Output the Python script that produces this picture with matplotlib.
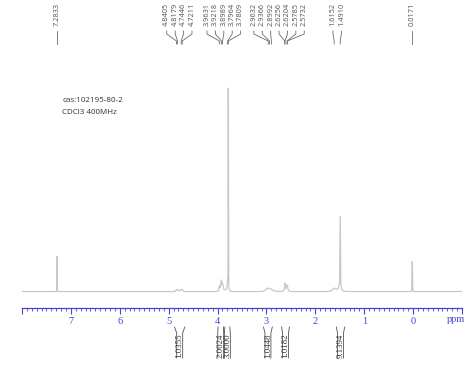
import matplotlib
matplotlib.use("Agg")
import matplotlib.pyplot as plt
import matplotlib.transforms as mtransforms
from matplotlib.ticker import MultipleLocator, FixedLocator, FuncFormatter

# ---------------- data ----------------
spec_ppm = [8.0, 7.30, 7.29, 7.2833, 7.277, 7.265,
            4.87, 4.84, 4.83, 4.818, 4.78, 4.745, 4.733, 4.721, 4.69,
            4.00, 3.975, 3.963, 3.945, 3.922, 3.91, 3.899, 3.87, 3.84, 3.81,
            3.7964, 3.788, 3.7809, 3.77, 3.75, 3.70,
            3.10, 3.03, 2.98, 2.95, 2.91, 2.86, 2.80, 2.70,
            2.66, 2.635, 2.6256, 2.6204, 2.605, 2.5785, 2.5732, 2.555, 2.52, 2.45,
            1.75, 1.67, 1.6152, 1.57, 1.53, 1.505, 1.491, 1.478, 1.46, 1.42, 1.35,
            0.05, 0.03, 0.0171, 0.005, -0.02, -1.0]
spec_int = [0.0, 0.0, 0.5, 17.2, 0.5, 0.0,
            0.0, 1.0, 0.7, 1.0, 0.3, 1.0, 0.7, 1.0, 0.0,
            0.0, 0.8, 3.0, 2.0, 5.7, 3.5, 4.2, 1.0, 0.8, 1.5,
            5.0, 8.0, 100.0, 2.0, 0.3, 0.0,
            0.0, 0.6, 1.5, 1.7, 1.3, 0.5, 0.1, 0.0,
            0.2, 1.0, 4.0, 4.2, 1.5, 3.0, 3.2, 0.8, 0.1, 0.0,
            0.0, 0.5, 1.7, 1.0, 1.5, 4.0, 36.9, 4.0, 1.0, 0.2, 0.0,
            0.0, 0.3, 14.7, 0.3, 0.0, 0.0]

peak_groups = [[7.2833],
               [4.8405, 4.8179, 4.7446, 4.7211],
               [3.9631, 3.9218, 3.8989, 3.7964, 3.7809],
               [2.9632, 2.9366, 2.8992, 2.6256, 2.6204, 2.5785, 2.5732],
               [1.6152, 1.4910],
               [0.0171]]

integral_ranges = [(4.88, 4.67), (3.99, 3.88), (3.85, 3.75),
                   (3.06, 2.88), (2.69, 2.53), (1.57, 1.40)]
integral_values = ['1.0355', '2.0024', '3.0000', '1.0448', '1.0182', '9.1394']

tick_labels = [7, 6, 5, 4, 3, 2, 1, 0]
info_lines = ['cas:102195-80-2', 'CDCl3 400MHz']

# ---------------- figure ----------------
W, H = 474, 373
fig = plt.figure(figsize=(W / 100, H / 100), dpi=100)
fig.patch.set_facecolor('white')


def fy(p):
    return 1 - p / H


ax = fig.add_axes([22 / W, fy(308), 440 / W, 248 / H])
ax.plot(spec_ppm, spec_int, color='#c8c8c8', lw=0.9)
ax.set_xlim(8.0, -1.0)
ax.set_ylim(-8.1, 113.8)

blue = '#4646d2'
for s in ['top', 'left', 'right']:
    ax.spines[s].set_visible(False)
ax.spines['bottom'].set_color(blue)
ax.spines['bottom'].set_linewidth(0.9)
ax.set_yticks([])
ax.xaxis.set_major_locator(FixedLocator(list(range(-1, 9))))
ax.xaxis.set_minor_locator(MultipleLocator(0.1))
ax.xaxis.set_major_formatter(FuncFormatter(
    lambda v, p: str(int(round(v))) if int(round(v)) in tick_labels else ''))
ax.tick_params(axis='x', which='major', direction='out', length=4, width=0.8,
               color=blue, labelcolor=blue, labelsize=7.5, pad=2.5)
ax.tick_params(axis='x', which='minor', direction='out', length=2, width=0.6,
               color=blue)
for lab in ax.get_xticklabels():
    lab.set_family(['Liberation Serif', 'DejaVu Serif'])

trans_x = mtransforms.blended_transform_factory(ax.transData, fig.transFigure)

ax.text(-0.88, fy(320), 'ppm', transform=trans_x, ha='center', va='center',
        color=blue, fontsize=7.5, family=['Liberation Serif', 'DejaVu Serif'])

# ---------------- peak labels ----------------
px_per_ppm = 440 / 9.0
spacing = 8.4 / px_per_ppm
lc = '#6a6a6a'
for grp in peak_groups:
    n = len(grp)
    center = sum(grp) / n
    for i, p in enumerate(grp):
        lx = center + ((n - 1) / 2 - i) * spacing
        ax.text(lx, fy(3), f'{p:.4f}', transform=trans_x, rotation=90,
                ha='center', va='top', fontsize=5.3, color='#505050',
                family=['Open Sans', 'DejaVu Sans'])
        ax.plot([lx, lx, p, p], [fy(31), fy(34), fy(41), fy(44)],
                transform=trans_x, color=lc, lw=0.6, clip_on=False)

# ---------------- integrals ----------------
half = 3.0 / px_per_ppm
for (a, b), v in zip(integral_ranges, integral_values):
    c = (a + b) / 2
    ax.plot([a, c + half, c + half], [fy(327), fy(333), fy(358)],
            transform=trans_x, color='#505050', lw=0.6, clip_on=False)
    ax.plot([b, c - half, c - half], [fy(327), fy(333), fy(358)],
            transform=trans_x, color='#505050', lw=0.6, clip_on=False)
    ax.text(c, fy(345.5), v, transform=trans_x, rotation=90, ha='center',
            va='center', fontsize=6.3, color='#333333',
            family=['Liberation Serif', 'DejaVu Serif'])

# ---------------- info text ----------------
fig.text(62 / W, fy(100), info_lines[0], ha='left', va='center', fontsize=5.8,
         color='#333333', family=['Open Sans', 'DejaVu Sans'])
fig.text(62 / W, fy(112), info_lines[1], ha='left', va='center', fontsize=5.8,
         color='#333333', family=['Open Sans', 'DejaVu Sans'])

fig.savefig('out.png', dpi=100, facecolor='white')
